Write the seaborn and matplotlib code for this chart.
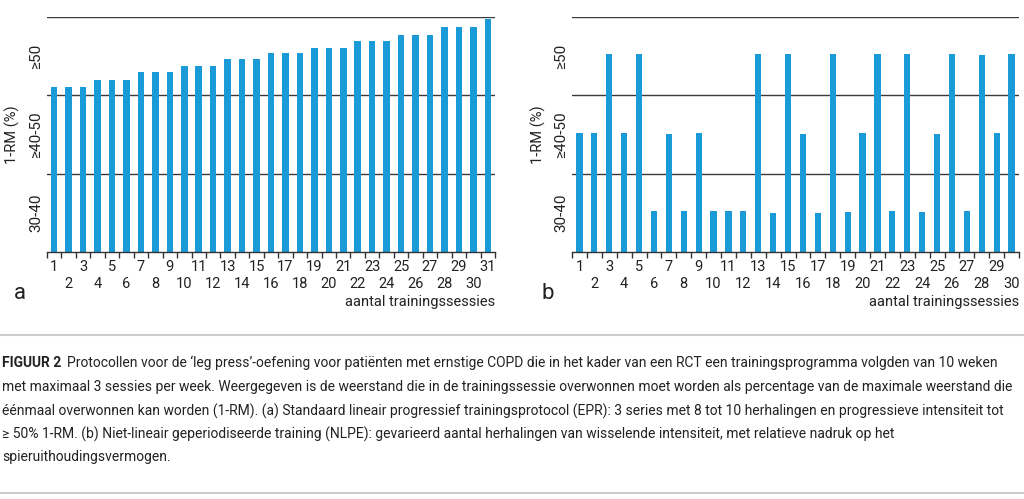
import matplotlib
matplotlib.use("Agg")
import matplotlib.pyplot as plt
import seaborn as sns
import pandas as pd

# data
sessions_a = list(range(1, 32))
rm_a = [51.1, 51.1, 51.1, 52.0, 52.0, 52.0, 53.0, 53.0, 53.0, 53.7, 53.7, 53.7,
        54.6, 54.6, 54.6, 55.4, 55.4, 55.4, 56.0, 56.0, 56.0, 56.9, 56.9, 56.9,
        57.7, 57.7, 57.7, 58.7, 58.7, 58.7, 59.8]
sessions_b = list(range(1, 31))
rm_b = [45.2, 45.2, 55.3, 45.2, 55.3, 35.2, 45.1, 35.2, 45.2, 35.2, 35.2, 35.2,
        55.3, 35.0, 55.3, 45.1, 35.0, 55.3, 35.1, 45.2, 55.3, 35.2, 55.3, 35.1,
        45.1, 55.3, 35.2, 55.1, 45.2, 55.3]
band_labels = ["30-40", "\u226540-50", "\u226550"]
band_centers = [35, 45, 55]
panel_labels = ["a", "b"]

caption_lines = [
    "Protocollen voor de \u2018leg press\u2019-oefening voor pati\u00ebnten met ernstige COPD die in het kader van een RCT een trainingsprogramma volgden van 10 weken",
    "met maximaal 3 sessies per week. Weergegeven is de weerstand die in de trainingssessie overwonnen moet worden als percentage van de maximale weerstand die",
    "\u00e9\u00e9nmaal overwonnen kan worden (1-RM). (a) Standaard lineair progressief trainingsprotocol (EPR): 3 series met 8 tot 10 herhalingen en progressieve intensiteit tot",
    "\u2265 50% 1-RM. (b) Niet-lineair geperiodiseerde training (NLPE): gevarieerd aantal herhalingen van wisselende intensiteit, met relatieve nadruk op het",
    "spieruithoudingsvermogen.",
]

sns.set_style("white")
plt.rcParams["font.family"] = ["Roboto", "DejaVu Sans"]

blue = "#1a9ad6"
W, H = 1024, 499
fig = plt.figure(figsize=(W / 100, H / 100), dpi=100)

ax_a = fig.add_axes([47 / W, (H - 252) / H, 448 / W, 235 / H])
ax_b = fig.add_axes([572 / W, (H - 252) / H, 447 / W, 235 / H])

panels = [(ax_a, sessions_a, rm_a, 0.45), (ax_b, sessions_b, rm_b, 0.42)]
for i, (ax, sess, vals, bw) in enumerate(panels):
    df = pd.DataFrame({"sessie": sess, "rm": vals})
    sns.barplot(data=df, x="sessie", y="rm", color=blue, width=bw,
                saturation=1, linewidth=0, ax=ax)
    n = len(sess)
    ax.set_xlim(-0.5, n - 0.5)
    ax.set_ylim(30, 60)
    for yv in [40, 50, 60]:
        ax.axhline(yv, color="#3a3a3a", lw=1.0, zorder=0)
    for s in ["top", "right", "left"]:
        ax.spines[s].set_visible(False)
    ax.spines["bottom"].set_color("#333333")
    ax.spines["bottom"].set_linewidth(1.0)

    ax.set_xticks(range(n))
    ax.set_xticklabels([str(s) for s in sess], fontsize=10.5, color="#222222")
    ax.tick_params(axis="x", which="major", length=0, pad=6)
    for k, t in enumerate(ax.xaxis.get_major_ticks()):
        if k % 2 == 1:
            t.set_pad(18)
    ax.set_xticks([k - 0.5 for k in range(n + 1)], minor=True)
    ax.tick_params(axis="x", which="minor", length=4, width=1, color="#333333",
                   direction="out", bottom=True)

    ax.set_yticks(band_centers)
    ax.set_yticklabels(band_labels, rotation=90, va="center", fontsize=11,
                       color="#222222")
    ax.tick_params(axis="y", length=0, pad=3)
    ax.set_xlabel("aantal trainingssessies", fontsize=10.5, loc="right",
                  labelpad=3, color="#222222")
    ax.set_ylabel("1-RM (%)", fontsize=10.5, labelpad=6, color="#222222")
    ax.text(-0.075 if i == 0 else -0.068, -0.175, panel_labels[i],
            transform=ax.transAxes, fontsize=16, va="center", ha="left",
            color="#222222")

# caption
fig.add_artist(plt.Line2D([0, 1], [(H - 335) / H] * 2, color="#cccccc", lw=1.5))
fig.add_artist(plt.Line2D([0, 1], [(H - 493) / H] * 2, color="#cccccc", lw=1.5))
ys = [363, 387, 411, 434, 457]
renderer = fig.canvas.get_renderer()

head = fig.text(2 / W, (H - ys[0]) / H, "FIGUUR 2", fontsize=10, fontweight="bold",
                va="center", ha="left", color="#222222")
hb = head.get_window_extent(renderer)
starts = [hb.x1 + 8, 2, 2, 2, 2]
ends = [1008, 1013, 1018, 983, None]
texts = []
for k, line in enumerate(caption_lines):
    t = fig.text(starts[k] / W, (H - ys[k]) / H, line, fontsize=10, va="center",
                 ha="left", color="#222222")
    texts.append(t)
# shrink the long lines so they fit the width like in the original
scale = min((ends[k] - starts[k]) / texts[k].get_window_extent(renderer).width
            for k in range(4))
for t in texts + [head]:
    t.set_fontsize(10 * scale)
hb = head.get_window_extent(renderer)
texts[0].set_x((hb.x1 + 6) / W)

fig.savefig("out.png", dpi=100)
